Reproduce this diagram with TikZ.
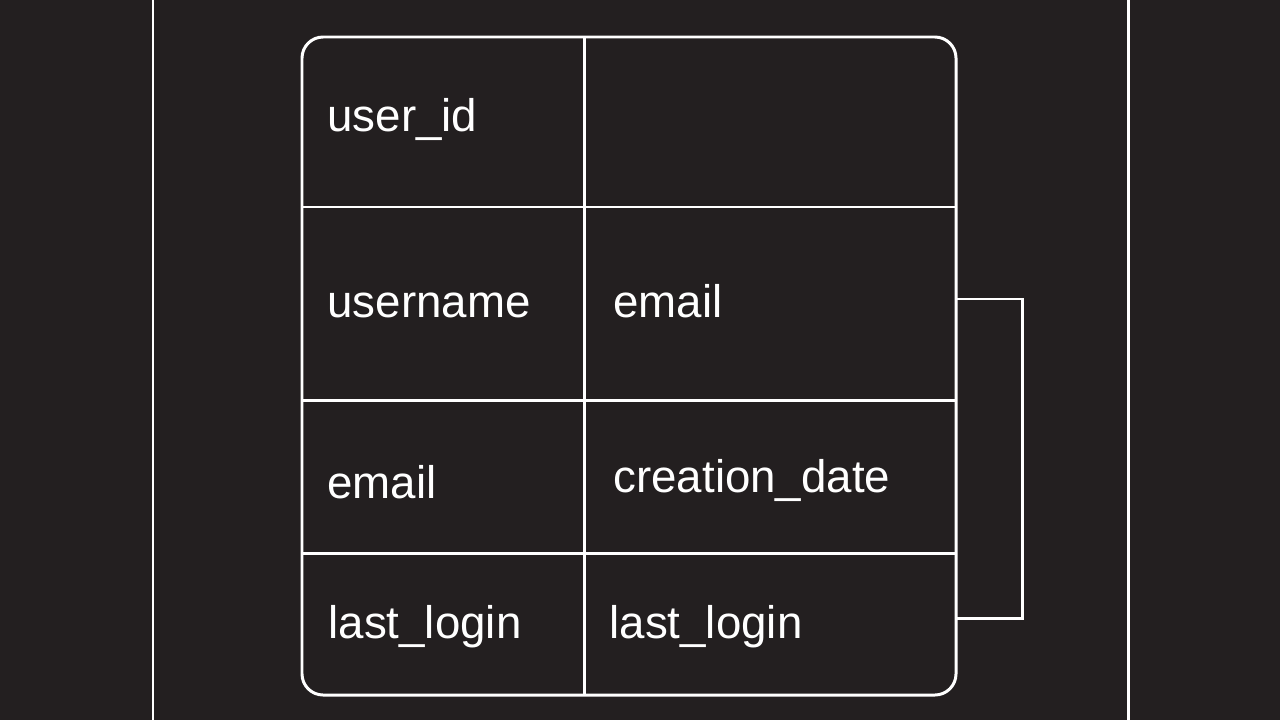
\documentclass[tikz,border=0pt]{standalone}
\usepackage{fontspec}
\setmainfont{Liberation Sans}
\definecolor{bgdark}{HTML}{231F20}
\begin{document}
\begin{tikzpicture}[x=0.02cm,y=-0.02cm,line width=1.7pt,wline/.style={draw=white},field/.style={anchor=west,text=white,font=\fontsize{26}{30}\selectfont,inner sep=0pt}]
\def\xl{302};
\def\xm{584};
\def\xr{956};
\def\xb{1022};

\fill[bgdark] (0,0) rectangle (1280,720);
\useasboundingbox (0,0) rectangle (1280,720);

\coordinate (L1) at (153,0);
\coordinate (L2) at (153,720);
\coordinate (R1) at (1128,0);
\coordinate (R2) at (1128,720);
\draw[wline] (L1) -- (L2);
\draw[wline] (R1) -- (R2);

\node[wline,rounded corners=12pt,minimum width=654*0.02cm,minimum height=658*0.02cm,line width=1.7pt] (T) at (629,366) {};

\coordinate (Ct) at (\xm,37);
\coordinate (Cb) at (\xm,695);
\draw[wline] (Ct) -- (Cb);
\coordinate (A1) at (\xl,207);
\coordinate (A2) at (\xr,207);
\draw[wline] (A1) -- (A2);
\coordinate (B1) at (\xl,400);
\coordinate (B2) at (\xr,400);
\draw[wline] (B1) -- (B2);
\coordinate (C1) at (\xl,553);
\coordinate (C2) at (\xr,553);
\draw[wline] (C1) -- (C2);

\node[field] (uid) at (326,119) {user\_id};
\node[field] (uname) at (326,305) {username};
\node[field] (em) at (326,482) {email};
\node[field] (ll) at (327,627) {last\_login};
\node[field] (em2) at (612,301) {email};
\node[field] (cd) at (612,480) {creation\_date};
\node[field] (ll2) at (608,627) {last\_login};

\coordinate (K1) at (\xr,299);
\coordinate (K2) at (\xr,618);
\draw[wline] (K1) -- (\xb,299) -- (\xb,618) -- (K2);
\end{tikzpicture}
\end{document}
